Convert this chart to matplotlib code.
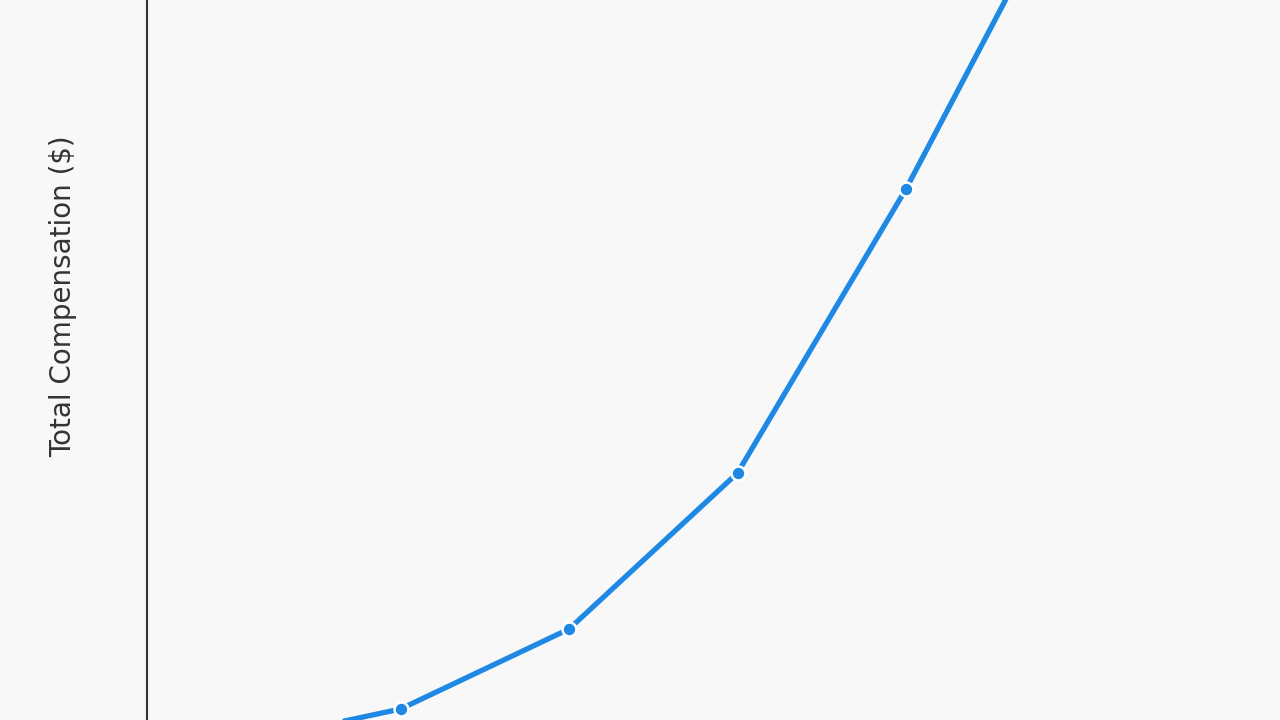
import matplotlib
matplotlib.use('Agg')
import matplotlib.pyplot as plt

# years of experience and total compensation (USD)
years = [0, 1, 2, 3, 4, 5]
compensation = [58000, 67000, 87000, 126000, 197000, 277000]

BG = '#f8f8f8'
LINE = '#1e88e5'

fig = plt.figure(figsize=(12.8, 7.2), dpi=100, facecolor=BG)
# axes run past the bottom/right edge of the canvas, like the reference crop
ax = fig.add_axes([147 / 1280, 0, 1 - 147 / 1280, 1])
ax.set_facecolor(BG)

ax.plot(years, compensation, color=LINE, linewidth=3.8, marker='o',
        markersize=10, markerfacecolor=LINE, markeredgecolor='white',
        markeredgewidth=1.8, solid_capstyle='round')

ax.set_xlim(-0.505, 6.22)
ax.set_ylim(64250, 244250)

for side in ['top', 'right', 'bottom']:
    ax.spines[side].set_visible(False)
ax.spines['left'].set_color('#333333')
ax.spines['left'].set_linewidth(1.5)
ax.set_xticks([])
ax.set_yticks([])

ax.set_ylabel('Total Compensation ($)', fontsize=20, color='#333333')
ax.yaxis.set_label_coords(-0.062, 0.589)

fig.savefig('out.png', dpi=100, facecolor=BG)
